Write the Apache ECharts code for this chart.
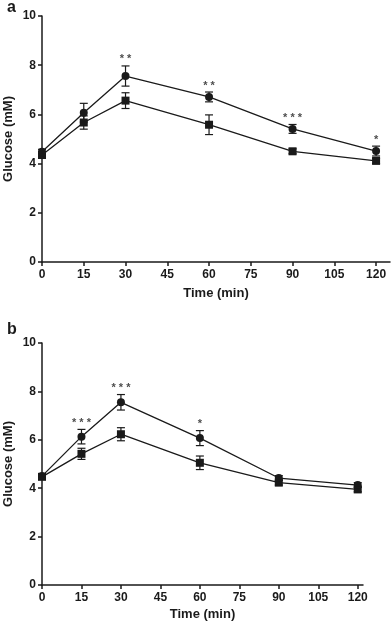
<!DOCTYPE html>
<html>
<head>
<meta charset="utf-8">
<script src="https://cdn.jsdelivr.net/npm/echarts@6/dist/echarts.min.js"></script>
<style>
  html, body { margin: 0; padding: 0; background: #fff; }
  #chart { width: 391px; height: 625px; }
</style>
</head>
<body>
<div id="chart"></div>
<script>
// time points (min)
const times = [0, 15, 30, 60, 90, 120]
const xTicks = [0, 15, 30, 45, 60, 75, 90, 105, 120]

// panel a
const aCircle = [4.48, 6.07, 7.56, 6.71, 5.41, 4.51]
const aCircleErr = [0.1, 0.38, 0.41, 0.2, 0.18, 0.2]
const aSquare = [4.35, 5.67, 6.56, 5.58, 4.5, 4.11]
const aSquareErr = [0.1, 0.27, 0.32, 0.4, 0.1, 0.1]
const aStars = ['', '', '**', '**', '***', '*']

// panel b
const bCircle = [4.5, 6.13, 7.55, 6.07, 4.42, 4.13]
const bCircleErr = [0.1, 0.3, 0.32, 0.31, 0.1, 0.1]
const bSquare = [4.47, 5.42, 6.23, 5.05, 4.23, 3.95]
const bSquareErr = [0.1, 0.23, 0.27, 0.28, 0.1, 0.1]
const bStars = ['', '***', '***', '*', '', '']

const ink = '#1a1a1a'
const font = 'Liberation Sans, Arial, sans-serif'

const chart = echarts.init(document.getElementById('chart'))

const pairs = (vals) => times.map((t, i) => [t, vals[i]])
const errData = (vals, errs) => times.map((t, i) => [t, vals[i] - errs[i], vals[i] + errs[i]])

// error bars with caps
const renderErr = (params, api) => {
  const lo = api.coord([api.value(0), api.value(1)])
  const hi = api.coord([api.value(0), api.value(2)])
  const w = 4
  const style = { stroke: ink, lineWidth: 1.2 }
  return {
    type: 'group',
    children: [
      { type: 'line', shape: { x1: lo[0], y1: lo[1], x2: hi[0], y2: hi[1] }, style },
      { type: 'line', shape: { x1: lo[0] - w, y1: lo[1], x2: lo[0] + w, y2: lo[1] }, style },
      { type: 'line', shape: { x1: hi[0] - w, y1: hi[1], x2: hi[0] + w, y2: hi[1] }, style }
    ]
  }
}

const xAxisOf = (gi, max, gap) => ({
  gridIndex: gi,
  type: 'value',
  min: 0,
  max: max,
  interval: 15,
  name: 'Time (min)',
  nameLocation: 'middle',
  nameGap: gap,
  nameMoveOverlap: false,
  nameTextStyle: { color: ink, fontWeight: 'bold', fontSize: 13, fontFamily: font },
  axisLine: { lineStyle: { color: ink, width: 1.5 } },
  axisTick: { length: 4, lineStyle: { color: ink, width: 1.5 }, customValues: xTicks },
  axisLabel: { color: ink, fontWeight: 'bold', fontSize: 12, fontFamily: font, margin: 7, customValues: xTicks },
  splitLine: { show: false }
})

const yAxisOf = (gi) => ({
  gridIndex: gi,
  type: 'value',
  min: 0,
  max: 10,
  interval: 2,
  name: 'Glucose (mM)',
  nameLocation: 'middle',
  nameGap: 27,
  nameMoveOverlap: false,
  nameTextStyle: { color: ink, fontWeight: 'bold', fontSize: 13, fontFamily: font },
  axisLine: { show: true, lineStyle: { color: ink, width: 1.5 } },
  axisTick: { show: true, length: 4, lineStyle: { color: ink, width: 1.5 } },
  axisLabel: { color: ink, fontWeight: 'bold', fontSize: 12, fontFamily: font, margin: 6 },
  splitLine: { show: false }
})

const panelSeries = (gi, circ, circErr, sq, sqErr, stars) => [
  {
    type: 'line', xAxisIndex: gi, yAxisIndex: gi,
    data: pairs(sq), symbol: 'rect', symbolSize: 8,
    lineStyle: { color: ink, width: 1.3 }, itemStyle: { color: ink }, z: 3
  },
  {
    type: 'line', xAxisIndex: gi, yAxisIndex: gi,
    data: pairs(circ), symbol: 'circle', symbolSize: 8,
    lineStyle: { color: ink, width: 1.3 }, itemStyle: { color: ink }, z: 3
  },
  {
    type: 'custom', xAxisIndex: gi, yAxisIndex: gi,
    data: errData(sq, sqErr), renderItem: renderErr, z: 4
  },
  {
    type: 'custom', xAxisIndex: gi, yAxisIndex: gi,
    data: errData(circ, circErr), renderItem: renderErr, z: 4
  },
  {
    // significance stars above the upper error bar
    type: 'scatter', xAxisIndex: gi, yAxisIndex: gi,
    symbolSize: 0, silent: true,
    data: times.map((t, i) => ({ value: [t, circ[i] + circErr[i]], name: stars[i] })),
    label: {
      show: true, position: 'top', distance: 1,
      color: ink, fontSize: 11, fontWeight: 'bold', fontFamily: font,
      formatter: (p) => p.name.split('').join(' ')
    }
  }
]

const option = {
  animation: false,
  backgroundColor: '#fff',
  title: [
    { text: 'a', left: 2, top: -5, textStyle: { color: ink, fontSize: 16, fontWeight: 'bold', fontFamily: font } },
    { text: 'b', left: 2, top: 317, textStyle: { color: ink, fontSize: 16, fontWeight: 'bold', fontFamily: font } }
  ],
  grid: [
    { left: 42, right: 1, top: 16, bottom: 363, outerBoundsMode: 'none', containLabel: false },
    { left: 42, right: 28, top: 343, bottom: 40, outerBoundsMode: 'none', containLabel: false }
  ],
  xAxis: [xAxisOf(0, 125, 25), xAxisOf(1, 122, 23)],
  yAxis: [yAxisOf(0), yAxisOf(1)],
  series: [
    ...panelSeries(0, aCircle, aCircleErr, aSquare, aSquareErr, aStars),
    ...panelSeries(1, bCircle, bCircleErr, bSquare, bSquareErr, bStars)
  ]
}

chart.setOption(option)
</script>
</body>
</html>
